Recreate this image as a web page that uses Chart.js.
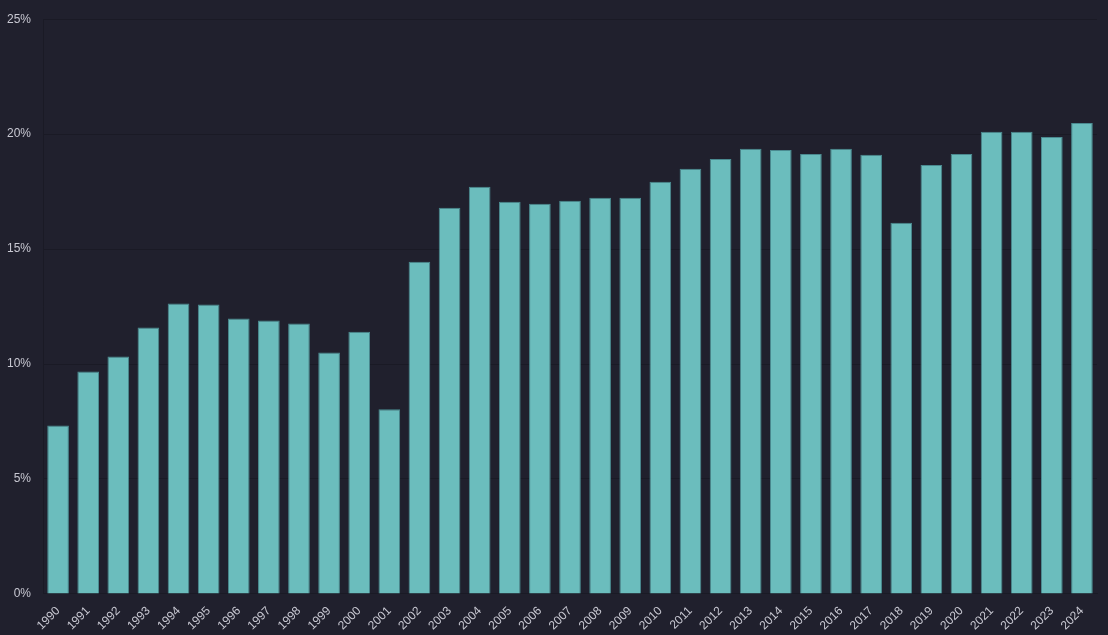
<!DOCTYPE html>
<html><head><meta charset="utf-8">
<script src="https://cdn.jsdelivr.net/npm/chart.js@4/dist/chart.umd.min.js"></script>
<style>html,body{margin:0;padding:0;background:#20202d;}#wrap{width:1108px;height:635px;}</style>
</head><body><div id="wrap"><canvas id="c"></canvas></div>
<script>
const years = ['1990','1991','1992','1993','1994','1995','1996','1997','1998','1999','2000','2001','2002','2003','2004','2005','2006','2007','2008','2009','2010','2011','2012','2013','2014','2015','2016','2017','2018','2019','2020','2021','2022','2023','2024'];
const shares = [7.33,9.68,10.33,11.59,12.63,12.59,11.98,11.89,11.76,10.50,11.41,8.03,14.45,16.80,17.71,17.06,16.97,17.10,17.23,17.23,17.93,18.49,18.92,19.36,19.31,19.14,19.36,19.10,16.15,18.66,19.14,20.10,20.10,19.88,20.49];
const yTicks = [0,5,10,15,20,25];

new Chart(document.getElementById('c'), {
  type: 'bar',
  data: { labels: years, datasets: [{ data: shares, backgroundColor: '#6bbdbd', borderColor: '#4a8a90', borderWidth: 1 }] },
  options: {
    responsive: true, maintainAspectRatio: false, animation: false,
    layout: { padding: { top: 12, right: 11, left: -5, bottom: 0 } },
    plugins: { legend: { display: false }, tooltip: { enabled: false } },
    scales: {
      x: {
        grid: { display: false },
        border: { display: true, color: '#1a1a25' },
        ticks: { color: '#c8c8d2', font: { family: 'Liberation Sans, Arial', size: 12 }, maxRotation: 45, minRotation: 45, autoSkip: false, padding: 2 }
      },
      y: {
        min: 0, max: 25,
        afterBuildTicks: s => { s.ticks = yTicks.map(v => ({ value: v })); },
        grid: { color: '#1a1a25', drawTicks: false },
        border: { display: true, color: '#1a1a25' },
        ticks: { color: '#c8c8d2', font: { family: 'Liberation Sans, Arial', size: 12 }, padding: 12, callback: v => v + '%' }
      }
    }
  }
});
</script></body></html>
